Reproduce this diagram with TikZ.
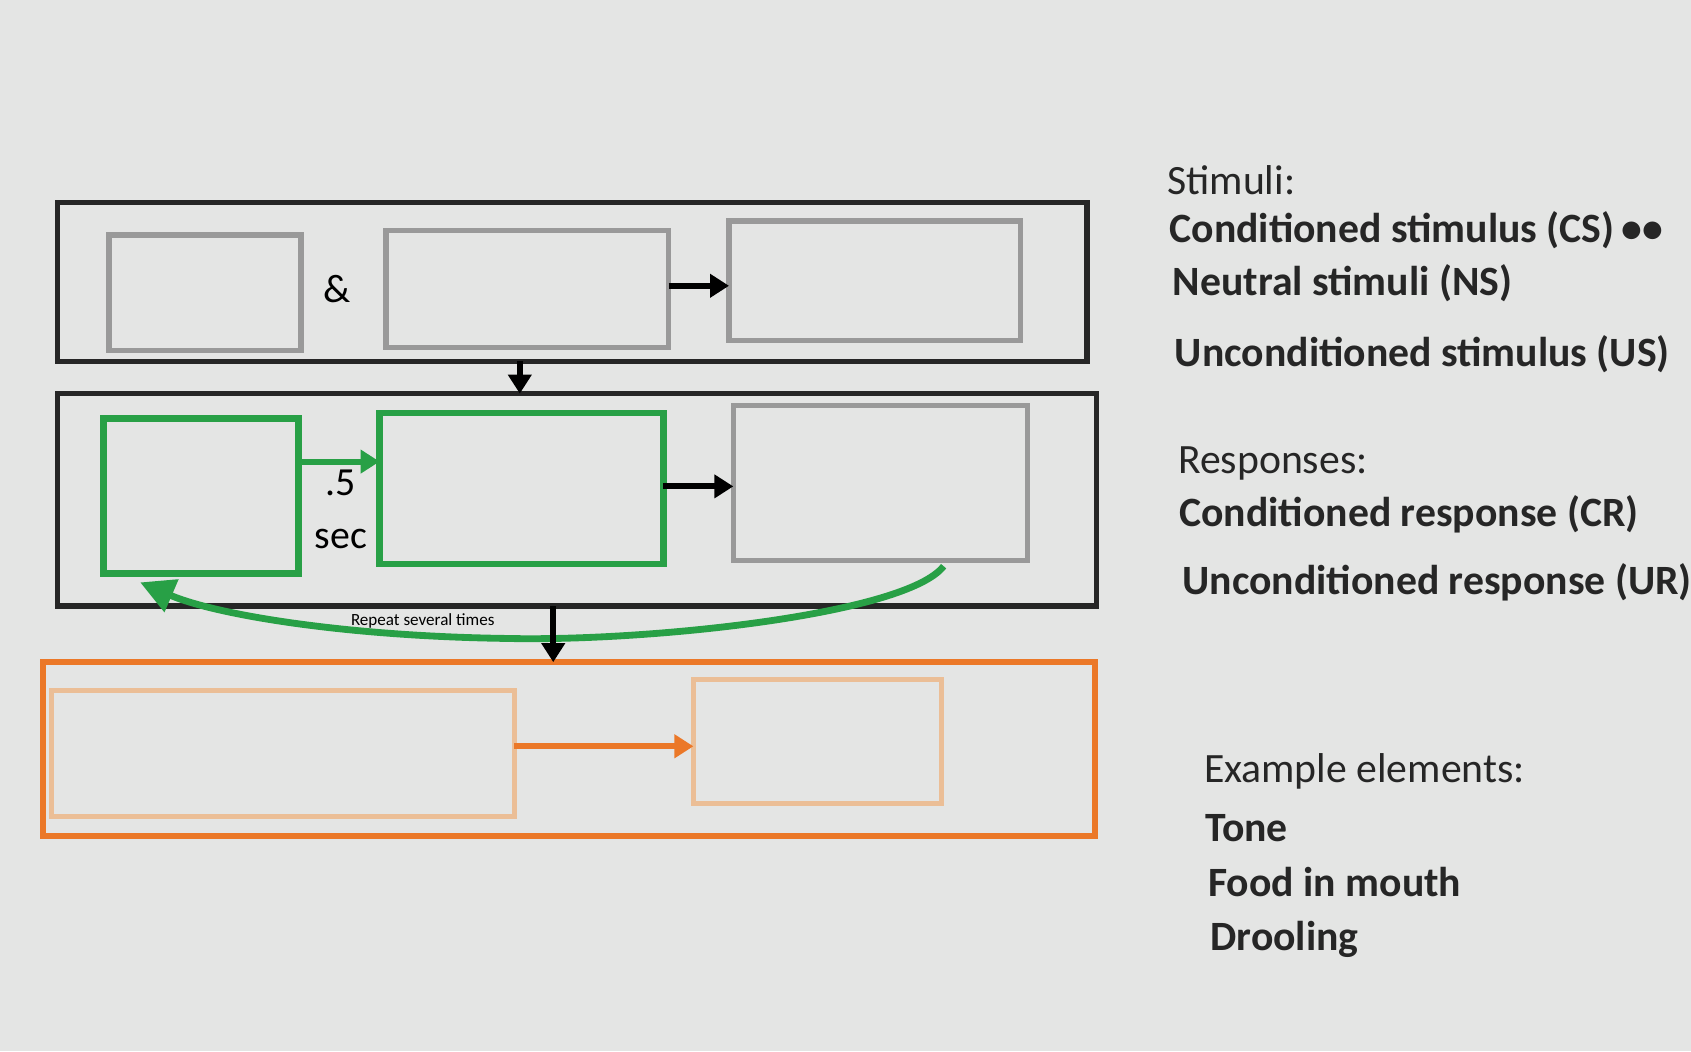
\documentclass[tikz,border=0pt]{standalone}
\usepackage{fontspec}
\setmainfont{Carlito}
\usetikzlibrary{arrows.meta,fit}
\definecolor{bg}{RGB}{228,229,228}
\definecolor{gr}{RGB}{40,160,70}
\definecolor{og}{RGB}{235,120,40}
\definecolor{lo}{RGB}{235,190,150}
\tikzset{
 bx/.style={inner sep=0pt,outer sep=0pt},
 outer/.style={bx,draw=black!85,line width=1.4pt},
 gbox/.style={bx,draw=gray!80,line width=1.4pt},
 grbox/.style={bx,draw=gr,line width=1.8pt},
 obox/.style={bx,draw=og,line width=1.6pt},
 lobox/.style={bx,draw=lo,line width=1.4pt},
 arr/.style={-{Triangle[length=5pt,width=6pt]},line width=1.6pt},
 lbl/.style={anchor=west,font=\fontsize{11}{13}\selectfont,text=black!85},
 blbl/.style={lbl,font=\fontsize{11}{13}\selectfont\bfseries},
}
\begin{document}
\begin{tikzpicture}[x=0.01cm,y=-0.01cm]
\useasboundingbox (0,0) rectangle (1568,975);
\fill[bg] (0,0) rectangle (1568,975);
\clip (0,0) rectangle (1568,975);
% row 1
\node[outer,fit={(53,188)(1008,335)}] (r1) {};
\node[gbox,fit={(101,218)(279,325)}] (a1) {};
\node (amp) at (313,268) {\fontsize{10.5}{12}\selectfont\&};
\node[gbox,fit={(358,214)(620,322)}] (a2) {};
\node[gbox,fit={(676,205)(946,316)}] (a3) {};
\draw[arr] (a2.east|-0,265) -- (a3.west|-0,265);
% row 2
\node[outer,fit={(53,365)(1017,562)}] (r2) {};
\node[grbox,fit={(96,388)(277,532)}] (b1) {};
\node[grbox,fit={(352,383)(615,523)}] (b2) {};
\node[gbox,fit={(680,376)(953,520)}] (b3) {};
\draw[arr,gr] (b1.east|-0,428) -- (b2.west|-0,428);
\node[font=\fontsize{10.5}{12}\selectfont,align=center] (sec) at (316,472) {.5\\[2pt]sec};
\draw[arr] (b2.east|-0,451) -- (b3.west|-0,451);
\draw[arr] (r1.south-|482,0) -- (r2.north-|482,0);
% repeat arrow
\coordinate (rs) at (875,525);
\coordinate (re) at (130,540);
\draw[gr,line width=1.8pt,-{Triangle[length=9pt,width=9pt]}] (rs) .. controls (840,570) and (600,595) .. (470,592) .. controls (320,590) and (200,570) .. (re);
\node[font=\fontsize{4.5}{5}\selectfont] (rep) at (392,576) {Repeat several times};
% row 3
\node[obox,fit={(40,614)(1015,775)}] (r3) {};
\node[lobox,fit={(48,640)(477,757)}] (c1) {};
\node[lobox,fit={(643,630)(873,745)}] (c2) {};
\draw[arr,og] (c1.east|-0,692) -- (c2.west|-0,692);
\draw[arr] (r2.south-|513,0) -- (r3.north-|513,0);
% legend
\node[lbl] (t1) at (1070,167) {Stimuli:};
\node[blbl] (t2) at (1072,213) {Conditioned stimulus (CS)\,••};
\node[blbl] (t3) at (1075,263) {Neutral stimuli (NS)};
\node[blbl] (t4) at (1077,328) {Unconditioned stimulus (US)};
\node[lbl] (t5) at (1080,430) {Responses:};
\node[blbl] (t6) at (1081,477) {Conditioned response (CR)};
\node[blbl] (t7) at (1084,540) {Unconditioned response (UR)};
\node[lbl] (t8) at (1104,715) {Example elements:};
\node[blbl] (t9) at (1105,768) {Tone};
\node[blbl] (t10) at (1108,818) {Food in mouth};
\node[blbl] (t11) at (1110,871) {Drooling};
\end{tikzpicture}
\end{document}
